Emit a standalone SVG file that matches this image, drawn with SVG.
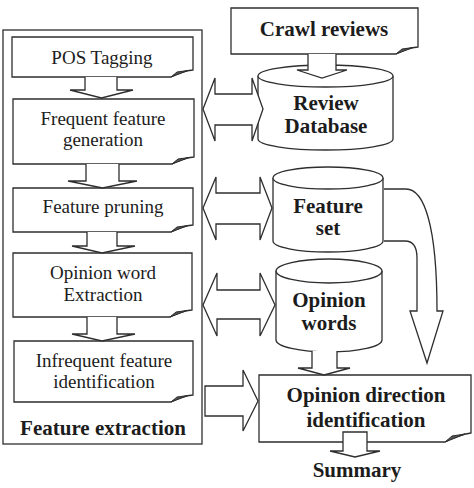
<svg xmlns="http://www.w3.org/2000/svg" width="474" height="488" viewBox="0 0 474 488">
<style>
.ln{fill:#fff;stroke:#2e2e2e;stroke-width:1.3;stroke-linejoin:miter}
.fold{fill:#555;stroke:#2e2e2e;stroke-width:1}
.t{font-family:"Liberation Serif","Times New Roman",serif;font-size:19px;fill:#1c1c1c;text-anchor:middle}
.b{font-family:"Liberation Serif","Times New Roman",serif;font-size:21px;font-weight:bold;fill:#1c1c1c;text-anchor:middle}
</style>
<rect width="474" height="488" fill="#fff"/>
<g id="feature-extraction">
<rect class="ln" x="3" y="30" width="199" height="414" fill="none"/>
<text class="b" x="103" y="435">Feature extraction</text>
</g>
<g id="pos-tagging">
<path class="ln" d="M12 37 H193 V70 Q182 71 171 77 H12 Z"/>
<path class="fold" d="M171 77 L177 72 L188 70.5 Z"/>
<text class="t" x="102" y="64">POS Tagging</text>
</g>
<g id="frequent-feature">
<path class="ln" d="M13 99 H194 V157 Q183 158 172 164 H13 Z"/>
<path class="fold" d="M172 164 L178 159 L189 157.5 Z"/>
<text class="t" x="103" y="125">Frequent feature</text>
<text class="t" x="103" y="146">generation</text>
</g>
<g id="feature-pruning">
<path class="ln" d="M13 188 H193 V225 Q182 226 171 232 H13 Z"/>
<path class="fold" d="M171 232 L177 227 L188 225.5 Z"/>
<text class="t" x="103" y="213">Feature pruning</text>
</g>
<g id="opinion-word-extraction">
<path class="ln" d="M13 253 H192 V310 Q181 311 170 317 H13 Z"/>
<path class="fold" d="M170 317 L176 312 L187 310.5 Z"/>
<text class="t" x="103" y="279">Opinion word</text>
<text class="t" x="103" y="301">Extraction</text>
</g>
<g id="infrequent-feature">
<path class="ln" d="M14 341 H193 V395 Q182 396 171 402 H14 Z"/>
<path class="fold" d="M171 402 L177 397 L188 395.5 Z"/>
<text class="t" x="104" y="367">Infrequent feature</text>
<text class="t" x="104" y="388">identification</text>
</g>
<g id="crawl-reviews">
<path class="ln" d="M231 8 H418 V47 Q407 48 396 54 H231 Z"/>
<path class="fold" d="M396 54 L402 49 L413 47.5 Z"/>
<text class="b" x="324" y="36">Crawl reviews</text>
</g>
<g id="review-database">
<path class="ln" d="M258 76 V139 A67.5 11 0 0 0 393 139 V76 A67.5 11 0 0 0 258 76 Z"/>
<path class="ln" fill="none" d="M258 76 A67.5 11 0 0 0 393 76"/>
<text class="b" x="326" y="110">Review</text>
<text class="b" x="326" y="133">Database</text>
</g>
<g id="feature-set">
<path class="ln" d="M273 178 V241 A55 11 0 0 0 383 241 V178 A55 11 0 0 0 273 178 Z"/>
<path class="ln" fill="none" d="M273 178 A55 11 0 0 0 383 178"/>
<text class="b" x="328" y="213">Feature</text>
<text class="b" x="328" y="235">set</text>
</g>
<g id="opinion-words">
<path class="ln" d="M276 271 V340 A53 12 0 0 0 382 340 V271 A53 12 0 0 0 276 271 Z"/>
<path class="ln" fill="none" d="M276 271 A53 12 0 0 0 382 271"/>
<text class="b" x="329" y="307">Opinion</text>
<text class="b" x="329" y="330">words</text>
</g>
<g id="opinion-direction">
<path class="ln" d="M259 375 H471 V433 Q458 435 445 442 H259 Z"/>
<path class="fold" d="M445 442 L452 436 L465 434 Z"/>
<text class="b" x="366" y="402">Opinion direction</text>
<text class="b" x="366" y="427">identification</text>
</g>
<g id="summary">
<text class="b" x="357" y="477">Summary</text>
</g>
<g id="connectors">
<path class="ln" d="M85 77 V90 H70 L101.5 98 L133 90 H117 V77"/>
<path class="ln" d="M86 164 V181 H68 L102.5 188 L137 181 H119 V164"/>
<path class="ln" d="M87 232 V246 H72 L102 253 L135 246 H117 V232"/>
<path class="ln" d="M87 317 V334 H72 L102 341 L135 334 H117 V317"/>
<path class="ln" d="M308 54 V70 H297 L322 78 L347 70 H336 V54"/>
<path class="ln" d="M312 351 V368 H298 L324 375 L350 368 H337 V351"/>
<path class="ln" d="M343 432 H367 V451 H380 L355 457 L330 451 H343 Z"/>
<path class="ln" d="M203 109 L215 78 V94 H252 V78 L263 109 L252 141 V125 H215 V141 Z"/>
<path class="ln" d="M203 208 L216 177 V193 H260 V177 L272 208 L260 240 V224 H216 V240 Z"/>
<path class="ln" d="M203 305 L217 273 V290 H260 V273 L275 305 L260 336 V319 H217 V336 Z"/>
<path class="ln" d="M205 386 H243 V370 L258 401 L243 431 V416 H205 Z"/>
<path class="ln" d="M384 189 L406 189 C424 189 437 225 437 311 L443 311 L427 363 L410 311 L417 311 L417 258 C417 247 413 241 405 241 L384 241"/>
</g>
</svg>
